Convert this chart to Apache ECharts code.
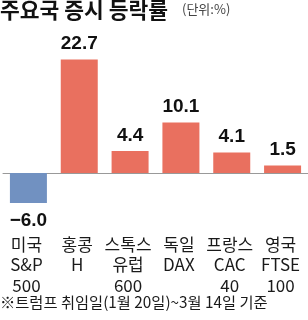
<!DOCTYPE html>
<html><head><meta charset="utf-8">
<style>html,body{margin:0;padding:0;background:#fff}#c{width:308px;height:320px}</style>
<script src="https://cdn.jsdelivr.net/npm/echarts@6/dist/echarts.min.js"></script>
</head><body><div id="c"></div>
<script>
var categories = ['미국\nS&P\n500', '홍콩\nH', '스톡스\n유럽\n600', '독일\nDAX', '프랑스\nCAC\n40', '영국\nFTSE\n100'];
var values = [-6.0, 22.7, 4.4, 10.1, 4.1, 1.5];
var title = '주요국 증시 등락률';
var unit = '(단위:%)';
var note = '※트럼프 취임일(1월 20일)~3월 14일 기준';

var chart = echarts.init(document.getElementById('c'), null, {renderer: 'canvas'});
var KR = '"Noto Sans CJK KR", "Noto Sans", sans-serif';
chart.setOption({
  animation: false,
  backgroundColor: '#fff',
  grid: {left: 3, right: 0, top: 23, bottom: 97, containLabel: false, outerBoundsMode: 'none'},
  xAxis: {
    type: 'category', data: categories,
    axisLine: {show: true, lineStyle: {color: '#999', width: 1}},
    axisTick: {show: false},
    axisLabel: {
      interval: 0, margin: 11, color: '#1a1a1a', fontFamily: KR, fontSize: 17,
      lineHeight: 20.5, padding: [0, 4, 0, 0], hideOverlap: false, verticalAlign: 'top'
    }
  },
  yAxis: {type: 'value', min: -10, max: 30, show: false, splitLine: {show: false}},
  series: [{
    type: 'bar', barWidth: 37,
    data: values.map(function (v) {
      return {
        value: v,
        itemStyle: {color: v < 0 ? '#7191C1' : '#E9705F'},
        label: {position: v < 0 ? 'bottom' : 'top', distance: v < 0 ? 8 : 6}
      };
    }),
    label: {
      show: true, color: '#111', fontFamily: '"Liberation Sans", Arial, sans-serif',
      fontWeight: 'bold', fontSize: 19,
      formatter: function (p) { return (p.value < 0 ? '\u2212' + Math.abs(p.value).toFixed(1) : p.value.toFixed(1)); }
    }
  }],
  graphic: [
    {type: 'text', left: 0, top: -1, style: {text: title, font: 'bold 21.5px ' + KR, fill: '#111'}},
    {type: 'text', left: 182, top: 3, style: {text: unit, font: '13px ' + KR, fill: '#444'}},
    {type: 'text', left: 0, top: 295, style: {text: note, font: '15.3px ' + KR, fill: '#1a1a1a'}}
  ]
});
</script></body></html>
